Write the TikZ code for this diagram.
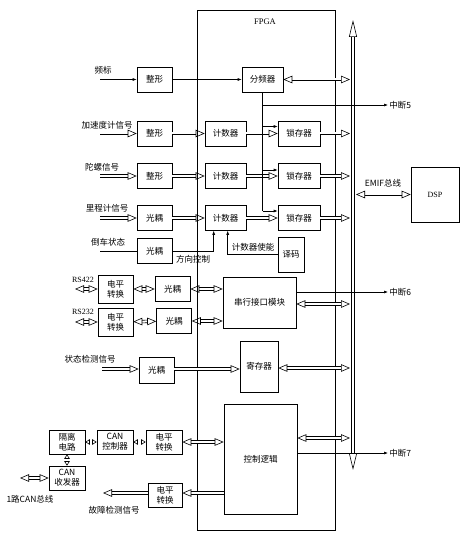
\documentclass[tikz,border=0pt]{standalone}
\usepackage{fontspec}
\setmainfont{Liberation Serif}
\newfontfamily\cjk{Noto Sans CJK SC}
\usetikzlibrary{arrows.meta,calc}

\begin{document}
\begin{tikzpicture}[x=1pt,y=-1pt,line width=0.6pt,
      ot/.tip={Triangle[open,length=9pt,width=7.5pt,line width=0.6pt 0 0]},
      os/.tip={Triangle[open,length=4.5pt,width=5.5pt,line width=0.6pt 0 0]},
      ob/.tip={Triangle[open,length=17pt,width=8pt,line width=0.6pt 0 0]},
      blk/.style={draw,align=center,inner sep=1pt,font=\cjk\fontsize{8.5}{10}\selectfont},
      sz/.style 2 args={minimum width=#1pt,minimum height=#2pt},
      lbl/.style={font=\cjk\fontsize{8.5}{10}\selectfont,inner sep=1pt},
      sarr/.style={-{Latex[length=4pt,width=3pt]}},
      dbl/.style={double,double distance=2pt,line width=0.65pt,-ot},
      dbb/.style={double,double distance=2pt,line width=0.65pt,ot-ot},
      dbs/.style={double,double distance=1.6pt,os-os},
      tobus/.style={shorten >=3pt}]
                                    \useasboundingbox (0,0) rectangle (474,537);
% FPGA frame and bus
                                    \node[draw,sz={138}{520}] (fpga) at (266,270) {};
                                    \node[lbl,font=\fontsize{8.5}{10}\selectfont] (fpgat) at (265,22) {FPGA};
                                    \coordinate (bt) at (353,20);
                                    \coordinate (bb) at (353,470);
                                    \draw[double,double distance=2.6pt,ob-ob] (bb) -- (bt);

% counter rows
                                    \node[blk,sz={35}{25}] (zx1) at (154.5,79.5) {整形};
                                    \node[blk,sz={41}{25}] (fp) at (262.5,79.5) {分频器};
                                    \node[blk,sz={35}{25}] (zx2) at (154.5,133.5) {整形};
                                    \node[blk,sz={41}{25}] (js2) at (225.5,133.5) {计数器};
                                    \node[blk,sz={42}{25}] (sc2) at (299,133.5) {锁存器};
                                    \node[blk,sz={35}{25}] (zx3) at (154.5,176) {整形};
                                    \node[blk,sz={41}{25}] (js3) at (225.5,176) {计数器};
                                    \node[blk,sz={42}{25}] (sc3) at (299,176) {锁存器};
                                    \node[blk,sz={35}{25}] (gy4) at (154.5,218) {光耦};
                                    \node[blk,sz={41}{25}] (js4) at (225.5,218) {计数器};
                                    \node[blk,sz={42}{25}] (sc4) at (299,218) {锁存器};
                                    \node[blk,sz={35}{25}] (gy5) at (154.5,251) {光耦};
                                    \node[blk,sz={26}{35}] (ym) at (291,254.5) {译码};

                                    \node[lbl] (pb) at (103,70) {频标};
                                    \node[lbl] (jsd) at (107,125) {加速度计信号};
                                    \node[lbl] (tl) at (102,167) {陀螺信号};
                                    \node[lbl] (lc) at (107,208) {里程计信号};
                                    \node[lbl] (dc) at (108,242) {倒车状态};
                                    \coordinate (in1) at (100,79.5);
                                    \coordinate (in2) at (100,133.5);
                                    \coordinate (in3) at (100,176);
                                    \coordinate (in4) at (100,218);
                                    \coordinate (in5) at (100,251);

                                    \draw[sarr] (in1) -- (zx1);
                                    \draw[sarr] (zx1) -- (fp);
                                    \draw[dbb,tobus] (fp.east) -- (fp.east -| bt);
                                    \draw[dbl] (in2) -- (zx2);
                                    \draw[dbl] (zx2) -- (js2);
                                    \draw[dbl] (js2) -- (sc2);
                                    \draw[dbl,tobus] (sc2.east) -- (sc2.east -| bt);
                                    \draw[dbl] (in3) -- (zx3);
                                    \draw[dbl] (zx3) -- (js3);
                                    \draw[dbl] (js3) -- (sc3);
                                    \draw[dbl,tobus] (sc3.east) -- (sc3.east -| bt);
                                    \draw[dbl] (in4) -- (gy4);
                                    \draw[dbl] (gy4) -- (js4);
                                    \draw[dbl] (js4) -- (sc4);
                                    \draw[dbl,tobus] (sc4.east) -- (sc4.east -| bt);
                                    \draw (in5) -- (gy5);

% latch control and interrupt 5
                                    \coordinate (c2) at ($(sc2.west)+(0,-7)$);
                                    \coordinate (c3) at ($(sc3.west)+(0,-6)$);
                                    \coordinate (c4) at ($(sc4.west)+(0,-7)$);
                                    \coordinate (i5) at (388,105);
                                    \draw (fp.south) -- (fp.south |- c4);
                                    \draw[sarr] (fp.south |- c2) -- (c2);
                                    \draw[sarr] (fp.south |- c3) -- (c3);
                                    \draw[sarr] (fp.south |- c4) -- (c4);
                                    \draw[sarr] (fp.south |- i5) -- (i5) node[lbl,right] (t5) {中断5};

% direction and enable
                                    \coordinate (fx) at ($(js4.south west)+(9,0)$);
                                    \coordinate (sn) at ($(js4.south west)+(23,0)$);
                                    \draw[sarr] (gy5.east) -| (fx);
                                    \draw[sarr] (ym.west) -| (sn);
                                    \node[lbl] (fxt) at (193,259) {方向控制};
                                    \node[lbl] (snt) at (253,247) {计数器使能};

% serial ports
                                    \node[blk,sz={35}{28}] (dp1) at (115.5,289) {电平\\转换};
                                    \node[blk,sz={35}{25}] (gy6) at (172.5,289) {光耦};
                                    \node[blk,sz={35}{28}] (dp2) at (115.5,322) {电平\\转换};
                                    \node[blk,sz={35}{25}] (gy7) at (174,321) {光耦};
                                    \node[blk,sz={73}{51}] (ck) at (259.5,302.5) {串行接口模块};
                                    \node[lbl,font=\fontsize{8}{9}\selectfont] (r1) at (83,280) {RS422};
                                    \node[lbl,font=\fontsize{8}{9}\selectfont] (r2) at (83,312) {RS232};
                                    \coordinate (p1) at (75,289);
                                    \coordinate (p2) at (75,322);
                                    \coordinate (i6) at (388,292);
                                    \draw[dbb] (p1) -- (dp1);
                                    \draw[dbb] (dp1) -- (gy6);
                                    \draw[dbb] (gy6.east) -- (gy6.east -| ck.west);
                                    \draw[dbb] (p2) -- (dp2);
                                    \draw[dbb] (dp2) -- (gy7);
                                    \draw[dbb] (gy7.east) -- (gy7.east -| ck.west);
                                    \draw[dbb,tobus] (ck.east |- 0,304) -- (bt |- 0,304);
                                    \draw[sarr] (ck.east |- i6) -- (i6) node[lbl,right] (t6) {中断6};

% status input
                                    \node[blk,sz={35}{26}] (gy8) at (156.5,370) {光耦};
                                    \node[blk,sz={38}{51}] (jc) at (259,366.5) {寄存器};
                                    \node[lbl] (zt) at (90,359) {状态检测信号};
                                    \coordinate (in8) at (102,369);
                                    \draw[dbl] (in8) -- (in8 -| gy8.west);
                                    \draw[dbl] (gy8.east |- in8) -- (in8 -| jc.west);
                                    \draw[dbb,tobus] (jc.east |- 0,368) -- (bt |- 0,368);

% control logic and CAN
                                    \node[blk,sz={73}{110}] (kz) at (260.5,459) {控制逻辑};
                                    \node[blk,sz={36}{24}] (gl) at (67,442) {隔离\\电路};
                                    \node[blk,sz={36}{24}] (can) at (115,442) {CAN\\控制器};
                                    \node[blk,sz={36}{24}] (dp3) at (164,442) {电平\\转换};
                                    \node[blk,sz={36}{24}] (sf) at (67,478) {CAN\\收发器};
                                    \node[blk,sz={34}{24}] (dp4) at (165,495) {电平\\转换};
                                    \node[lbl] (cz) at (30,499) {1路CAN总线};
                                    \node[lbl] (gz) at (114,510) {故障检测信号};
                                    \coordinate (cb) at (20,478);
                                    \coordinate (go) at (103,493);
                                    \coordinate (i7) at (388,453);
                                    \draw[dbs] (gl) -- (can);
                                    \draw[dbs] (can) -- (dp3);
                                    \draw[dbb] (dp3.east) -- (dp3.east -| kz.west);
                                    \draw[dbs] (gl) -- (sf);
                                    \draw[dbb] (cb) -- (sf);
                                    \draw[dbl] (go -| kz.west) -- (go -| dp4.east);
                                    \draw[dbl] (go -| dp4.west) -- (go);
                                    \draw[dbb,tobus] (kz.east |- 0,438) -- (bt |- 0,438);
                                    \draw[sarr] (kz.east |- i7) -- (i7) node[lbl,right] (t7) {中断7};

% DSP
                                    \node[blk,sz={48}{55},font=\fontsize{8}{9}\selectfont] (dsp) at (435,194.5) {DSP};
                                    \draw[dbb,shorten <=3pt] (bt |- dsp.west) -- (dsp.west);
                                    \node[lbl] (emif) at (383,183) {EMIF总线};

                                \end{tikzpicture}
\end{document}
